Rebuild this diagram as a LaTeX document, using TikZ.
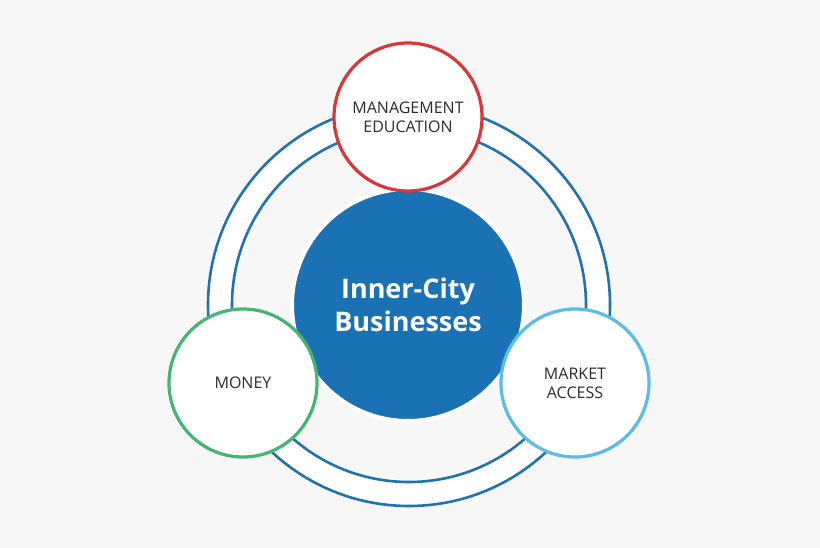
\documentclass[tikz,border=0pt]{standalone}
\usepackage{fontspec}
\setmainfont{Open Sans}
\definecolor{bg}{HTML}{F7F7F7}
\definecolor{ringblue}{HTML}{2173B0}
\definecolor{core}{HTML}{1A72B4}
\definecolor{cred}{HTML}{D9363A}
\definecolor{cgreen}{HTML}{45B574}
\definecolor{clight}{HTML}{5BBDE6}
\definecolor{txt}{HTML}{2B2B2B}
\begin{document}
\begin{tikzpicture}[x=1pt,y=-1pt,
  sat/.style={circle,draw=#1,line width=3.2pt,fill=white,minimum size=148pt,inner sep=0pt,align=center,text=txt,font=\fontsize{16}{19}\selectfont}]
\fill[bg] (0,0) rectangle (820,548);
\useasboundingbox (0,0) rectangle (820,548);
\coordinate (c) at (409,305);
\fill[white,even odd rule] (c) circle (201) (c) circle (177);
\draw[ringblue,line width=2.6pt] (c) circle (201);
\draw[ringblue,line width=2.6pt] (c) circle (177);
\node[circle,fill=core,draw=white,line width=4pt,minimum size=232pt,text=white,align=center,font=\fontsize{27}{33}\selectfont\bfseries] (core) at (408,305) {Inner-City\\Businesses};
\node[sat=cred] (mgmt) at (408,117) {MANAGEMENT\\EDUCATION};
\node[sat=cgreen] (money) at (243,383) {MONEY};
\node[sat=clight] (market) at (575,383) {MARKET\\ACCESS};
\end{tikzpicture}
\end{document}
